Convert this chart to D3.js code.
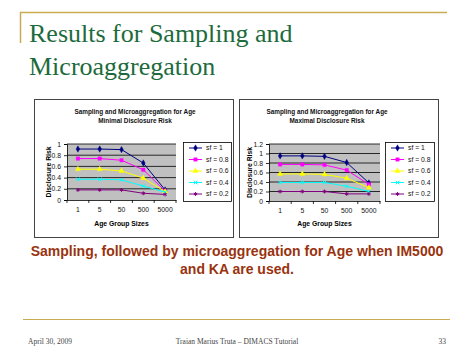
<!DOCTYPE html>
<html><head><meta charset="utf-8">
<script src="https://cdn.jsdelivr.net/npm/d3@7"></script>
<style>body{margin:0;background:#fff}svg{display:block}</style>
</head><body>
<script>
const categories = ["1","5","50","500","5000"];
const seriesNames = ["sf = 1","sf = 0.8","sf = 0.6","sf = 0.4","sf = 0.2"];
const minimalRisk = [
  [0.91,0.91,0.90,0.66,0.18],
  [0.74,0.74,0.71,0.54,0.16],
  [0.55,0.55,0.52,0.39,0.15],
  [0.37,0.37,0.36,0.25,0.14],
  [0.18,0.18,0.18,0.12,0.10]
];
const maximalRisk = [
  [0.95,0.95,0.94,0.81,0.38],
  [0.77,0.77,0.76,0.65,0.35],
  [0.57,0.57,0.56,0.48,0.28],
  [0.39,0.39,0.39,0.31,0.20],
  [0.20,0.20,0.20,0.15,0.15]
];
const minimalTicks = [0,0.2,0.4,0.6,0.8,1];
const maximalTicks = [0,0.2,0.4,0.6,0.8,1,1.2];
const seriesColors = ["#000080","#ff00ff","#ffff00","#00ffff","#800080"];
const seriesShapes = [d3.symbolDiamond, d3.symbolSquare, d3.symbolTriangle, d3.symbolX, d3.symbolAsterisk];
const hollow = [false,false,false,true,true];

const W=474,H=355;
const svg=d3.select("body").append("svg").attr("width",W).attr("height",H);
const gold="#c9ab52";
svg.append("line").attr("x1",20).attr("x2",447).attr("y1",12.5).attr("y2",12.5).attr("stroke",gold).attr("stroke-width",1.5);
svg.append("line").attr("x1",20.5).attr("x2",20.5).attr("y1",12).attr("y2",43).attr("stroke",gold).attr("stroke-width",1.5);
const tg=svg.append("g").attr("font-family","'Liberation Serif', serif").attr("fill","#1d6b3d").attr("font-size",26);
tg.append("text").attr("x",29).attr("y",42).text("Results for Sampling and");
tg.append("text").attr("x",29).attr("y",75).text("Microaggregation");

function drawChart(cfg){
  const g=svg.append("g");
  g.append("rect").attr("x",cfg.box[0]+0.5).attr("y",cfg.box[1]+0.5).attr("width",cfg.box[2]).attr("height",cfg.box[3])
    .attr("fill","#fff").attr("stroke","#444").attr("stroke-width",1);
  const cx=cfg.titleX;
  const tt=g.append("g").attr("font-family","'Liberation Sans', Arial, sans-serif").attr("font-weight","bold").attr("font-size",6.4).attr("text-anchor","middle").attr("fill","#111");
  tt.append("text").attr("x",cx).attr("y",cfg.box[1]+15).text("Sampling and Microaggregation for Age");
  tt.append("text").attr("x",cx).attr("y",cfg.box[1]+24).text(cfg.subtitle);
  const x=d3.scaleBand().domain(categories).range([cfg.plot[0],cfg.plot[1]]);
  const y=d3.scaleLinear().domain([0,cfg.ymax]).range([cfg.plot[3],cfg.plot[2]]);
  g.append("rect").attr("x",cfg.plot[0]).attr("y",cfg.plot[2]).attr("width",cfg.plot[1]-cfg.plot[0]).attr("height",cfg.plot[3]-cfg.plot[2]).attr("fill","#c0c0c0");
  g.selectAll("line.grid").data(cfg.ticks.filter(t=>t>0)).join("line").attr("class","grid")
    .attr("x1",cfg.plot[0]).attr("x2",cfg.plot[1]).attr("y1",d=>y(d)).attr("y2",d=>y(d)).attr("stroke","#000").attr("stroke-width",0.8);
  const ya=g.append("g").attr("transform",`translate(${cfg.plot[0]},0)`).call(d3.axisLeft(y).tickValues(cfg.ticks).tickSize(3).tickFormat(d3.format("~g")));
  const xa=g.append("g").attr("transform",`translate(0,${cfg.plot[3]})`).call(d3.axisBottom(x).tickSize(0).tickPadding(7));
  g.selectAll("line.xt").data(d3.range(categories.length+1)).join("line").attr("class","xt")
    .attr("x1",i=>cfg.plot[0]+i*x.step()).attr("x2",i=>cfg.plot[0]+i*x.step()).attr("y1",cfg.plot[3]).attr("y2",cfg.plot[3]+3).attr("stroke","#000").attr("stroke-width",0.8);
  [ya,xa].forEach(a=>{a.selectAll("text").attr("font-family","'Liberation Sans', Arial, sans-serif").attr("font-size",6.8).attr("fill","#111");a.select(".domain").attr("stroke","#000").attr("stroke-width",0.8);a.selectAll(".tick line").attr("stroke","#000").attr("stroke-width",0.8);});
  g.append("text").attr("transform",`translate(${cfg.ylabX},${(cfg.plot[2]+cfg.plot[3])/2}) rotate(-90)`).attr("text-anchor","middle")
    .attr("font-family","'Liberation Sans', Arial, sans-serif").attr("font-weight","bold").attr("font-size",6.8).text("Disclosure Risk");
  g.append("text").attr("x",(cfg.plot[0]+cfg.plot[1])/2).attr("y",cfg.xlabY).attr("text-anchor","middle")
    .attr("font-family","'Liberation Sans', Arial, sans-serif").attr("font-weight","bold").attr("font-size",6.8).text("Age Group Sizes");
  const line=d3.line().x((d,i)=>x(categories[i])+x.bandwidth()/2).y(d=>y(d));
  const marker=(sel,k)=>sel.attr("d",d3.symbol().type(seriesShapes[k]).size(hollow[k]?10:12)())
      .attr("fill",hollow[k]?"none":seriesColors[k]).attr("stroke",seriesColors[k]).attr("stroke-width",hollow[k]?1:0.4);
  cfg.data.forEach((s,k)=>{
    g.append("path").attr("d",line(s)).attr("fill","none").attr("stroke",seriesColors[k]).attr("stroke-width",1);
    g.selectAll(null).data(s).join("path")
      .attr("transform",(d,i)=>`translate(${x(categories[i])+x.bandwidth()/2},${y(d)})`).call(marker,k);
  });
  const L=cfg.legend;
  g.append("rect").attr("x",L[0]+0.5).attr("y",L[1]+0.5).attr("width",L[2]).attr("height",L[3]).attr("fill","#fff").attr("stroke","#000").attr("stroke-width",0.8);
  seriesNames.forEach((n,k)=>{
    const yy=L[1]+6+k*11.5;
    g.append("line").attr("x1",L[0]+6).attr("x2",L[0]+19).attr("y1",yy).attr("y2",yy).attr("stroke",seriesColors[k]).attr("stroke-width",1);
    g.append("path").attr("transform",`translate(${L[0]+12.5},${yy})`).call(marker,k);
    g.append("text").attr("x",L[0]+23).attr("y",yy+2.4).attr("font-family","'Liberation Sans', Arial, sans-serif").attr("font-size",6.8).attr("fill","#111").text(n);
  });
}

drawChart({box:[34,99,199,138],titleX:135,subtitle:"Minimal Disclosure Risk",plot:[67,176,144,200],ymax:1,ticks:minimalTicks,data:minimalRisk,ylabX:51,xlabY:226,legend:[183,142,48,59]});
drawChart({box:[239,99,199,138],titleX:327,subtitle:"Maximal Disclosure Risk",plot:[269,380,144,201],ymax:1.2,ticks:maximalTicks,data:maximalRisk,ylabX:252,xlabY:226,legend:[385,142,49,59]});

const cap=svg.append("g").attr("font-family","'Liberation Sans', Arial, sans-serif").attr("font-weight","bold").attr("font-size",14).attr("fill","#99330f").attr("text-anchor","middle");
cap.append("text").attr("x",237).attr("y",256).text("Sampling, followed by microaggregation for Age when IM5000");
cap.append("text").attr("x",237).attr("y",274).text("and KA are used.");

svg.append("line").attr("x1",23).attr("x2",450).attr("y1",319.5).attr("y2",319.5).attr("stroke",gold).attr("stroke-width",1.2);
const ft=svg.append("g").attr("font-family","'Liberation Serif', serif").attr("font-size",7.5).attr("fill","#444");
ft.append("text").attr("x",28).attr("y",344).text("April 30, 2009");
ft.append("text").attr("x",237).attr("y",344).attr("text-anchor","middle").text("Traian Marius Truta – DIMACS Tutorial");
ft.append("text").attr("x",446).attr("y",344).attr("text-anchor","end").text("33");
</script>
</body></html>
